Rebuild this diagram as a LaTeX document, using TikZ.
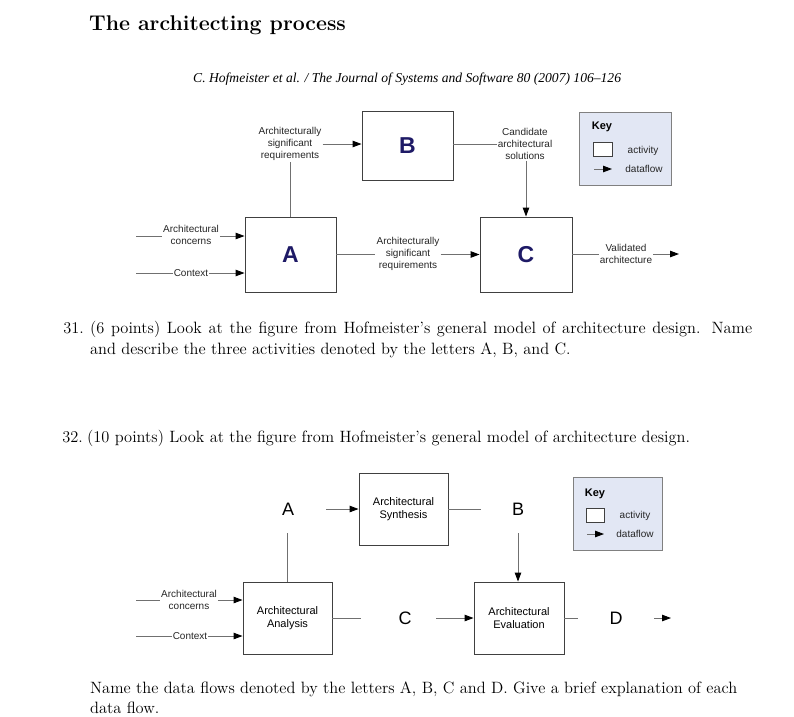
\documentclass[tikz,border=0pt]{standalone}
\usepackage{fontspec}
\newfontfamily\arialf{Liberation Sans}
\newfontfamily\timesf{Liberation Serif}
\newfontfamily\bodyf{lmroman12-regular.otf}[Ligatures=TeX]
\usetikzlibrary{arrows.meta}
\definecolor{navy}{HTML}{1E1A66}
\definecolor{lgray}{HTML}{707070}
\definecolor{bline}{HTML}{404040}
\definecolor{keyfill}{HTML}{E2E7F4}
\definecolor{keyline}{HTML}{808080}
\begin{document}
\begin{tikzpicture}[x=1pt,y=-1pt,
 act/.style={draw=bline, line width=0.9pt, fill=white, inner sep=0pt, align=center,
   font=\arialf\fontsize{11}{13}\selectfont},
 keybox/.style={draw=keyline, line width=0.8pt, fill=keyfill},
 keysq/.style={draw=bline, fill=white, line width=0.8pt, minimum width=19pt, minimum height=14pt, inner sep=0pt},
 keyt/.style={font=\arialf\bfseries\fontsize{11}{13}\selectfont},
 lbl/.style={font=\arialf\fontsize{10}{12}\selectfont, align=center, inner sep=1pt, text=black!85},
 big/.style={font=\arialf\bfseries\fontsize{23}{25}\selectfont, text=navy},
 letter/.style={font=\arialf\fontsize{18}{20}\selectfont, inner sep=0pt},
 wire/.style={draw=lgray, line width=0.9pt},
 flow/.style={wire, -{Triangle[length=9pt,width=6.5pt,color=black]}},
 body/.style={font=\bodyf\fontsize{16.4}{21}\selectfont, anchor=base west, inner sep=0pt},
]
\useasboundingbox (0,0) rectangle (794,716);

% ---------- header ----------
\node[anchor=base west, inner sep=0pt, font=\bfseries\fontsize{21.3}{26}\selectfont] (title) at (89,30) {The architecting process};
\node[anchor=base west, inner sep=0pt, font=\timesf\itshape\fontsize{13.6}{16}\selectfont] (cite) at (193,82) {C. Hofmeister et al. / The Journal of Systems and Software 80 (2007) 106\textendash126};

% ---------- top diagram ----------
\node[act, big, minimum width=91pt, minimum height=69pt] (B) at (407.5,145.5) {B};
\node[act, big, minimum width=91pt, minimum height=75pt] (A) at (290.5,254.5) {A};
\node[act, big, minimum width=92pt, minimum height=75pt] (C) at (526,254.5) {C};

\node[keybox, minimum width=92pt, minimum height=73pt] (K1) at (625,148.5) {};
\node[keyt] (K1t) at (602,127) {Key};
\node[keysq] (K1s) at (602.5,149) {};
\node[lbl] (K1a) at (643,151) {activity};
\node[lbl] (K1d) at (644,169) {dataflow};
\coordinate (K1f1) at (594,169);
\coordinate (K1f2) at (612,169);
\draw[flow] (K1f1) -- (K1f2);

\node[lbl] (asr1) at (290,144) {Architecturally\\significant\\requirements};
\node[lbl] (cand) at (525,144) {Candidate\\architectural\\solutions};
\node[lbl] (asr2) at (408,254) {Architecturally\\significant\\requirements};
\node[lbl] (valid) at (626,253.5) {Validated\\architecture};
\node[lbl] (conc1) at (191,235) {Architectural\\concerns};
\node[lbl] (ctx1) at (191,273) {Context};
\coordinate (ca1) at (136,236);
\coordinate (cx1) at (136,273);
\coordinate (vout) at (679,254);

\draw[wire] (A.north) -- (asr1.south -| A.north);
\draw[flow] (asr1.east) -- (B.west |- asr1.east);
\draw[wire] (B.east |- cand.west) -- (cand.west);
\draw[flow] (cand.south -| C.north) -- (C.north);
\draw[wire] (A.east) -- (asr2.west |- A.east);
\draw[flow] (asr2.east |- C.west) -- (C.west);
\draw[wire] (C.east) -- (valid.west |- C.east);
\draw[flow] (valid.east |- vout) -- (vout);
\draw[wire] (ca1) -- (conc1.west |- ca1);
\draw[flow] (conc1.east |- ca1) -- (A.west |- ca1);
\draw[wire] (cx1) -- (ctx1.west |- cx1);
\draw[flow] (ctx1.east |- cx1) -- (A.west |- cx1);

% ---------- question 31 ----------
\node[body, anchor=base east] (q31n) at (84,333) {31.};
\node[body] (q31a) at (90,333) {\makebox[662pt][s]{(6 points) Look at the figure from Hofmeister's general model of architecture design. Name}};
\node[body] (q31b) at (90,354) {and describe the three activities denoted by the letters A, B, and C.};

% ---------- question 32 ----------
\node[body, anchor=base east] (q32n) at (83,442) {32.};
\node[body] (q32a) at (87,442) {(10 points) Look at the figure from Hofmeister's general model of architecture design.};

% ---------- bottom diagram ----------
\node[act, minimum width=89pt, minimum height=72pt] (S) at (403.5,509) {Architectural\\Synthesis};
\node[act, minimum width=89pt, minimum height=72pt] (An) at (287.5,618) {Architectural\\Analysis};
\node[act, minimum width=90pt, minimum height=72pt] (E) at (519,618) {Architectural\\Evaluation};

\node[keybox, minimum width=89pt, minimum height=73pt] (K2) at (617.5,513.5) {};
\node[keyt] (K2t) at (595,494) {Key};
\node[keysq, minimum width=18pt] (K2s) at (595,515) {};
\node[lbl] (K2a) at (635,516) {activity};
\node[lbl] (K2d) at (635,534) {dataflow};
\coordinate (K2f1) at (587,534);
\coordinate (K2f2) at (604,534);
\draw[flow] (K2f1) -- (K2f2);

\node[letter, minimum width=76pt, minimum height=48pt] (lA) at (288,509) {A};
\node[letter, minimum width=74pt, minimum height=48pt] (lB) at (518,509) {B};
\node[letter, minimum width=88pt] (lC) at (405,618) {C};
\node[letter, minimum width=76pt] (lD) at (616,618) {D};
\node[lbl] (conc2) at (189,600) {Architectural\\concerns};
\node[lbl] (ctx2) at (190,636) {Context};
\coordinate (cb1) at (136,600);
\coordinate (cb2) at (136,636);
\coordinate (dout) at (671,618);

\draw[wire] (An.north) -- (lA.south -| An.north);
\draw[flow] (lA.east) -- (S.west |- lA.east);
\draw[wire] (S.east) -- (lB.west |- S.east);
\draw[flow] (lB.south) -- (E.north -| lB.south);
\draw[wire] (An.east) -- (lC.west |- An.east);
\draw[flow] ([xshift=-13pt]lC.east |- E.west) -- (E.west);
\draw[wire] (E.east) -- (lD.west |- E.east);
\draw[flow] (lD.east |- dout) -- (dout);
\draw[wire] (cb1) -- (conc2.west |- cb1);
\draw[flow] (conc2.east |- cb1) -- (An.west |- cb1);
\draw[wire] (cb2) -- (ctx2.west |- cb2);
\draw[flow] (ctx2.east |- cb2) -- (An.west |- cb2);

% ---------- final text ----------
\node[body] (q32b) at (90,693) {Name the data flows denoted by the letters A, B, C and D. Give a brief explanation of each};
\node[body] (q32c) at (90,713) {data flow.};
\end{tikzpicture}
\end{document}
